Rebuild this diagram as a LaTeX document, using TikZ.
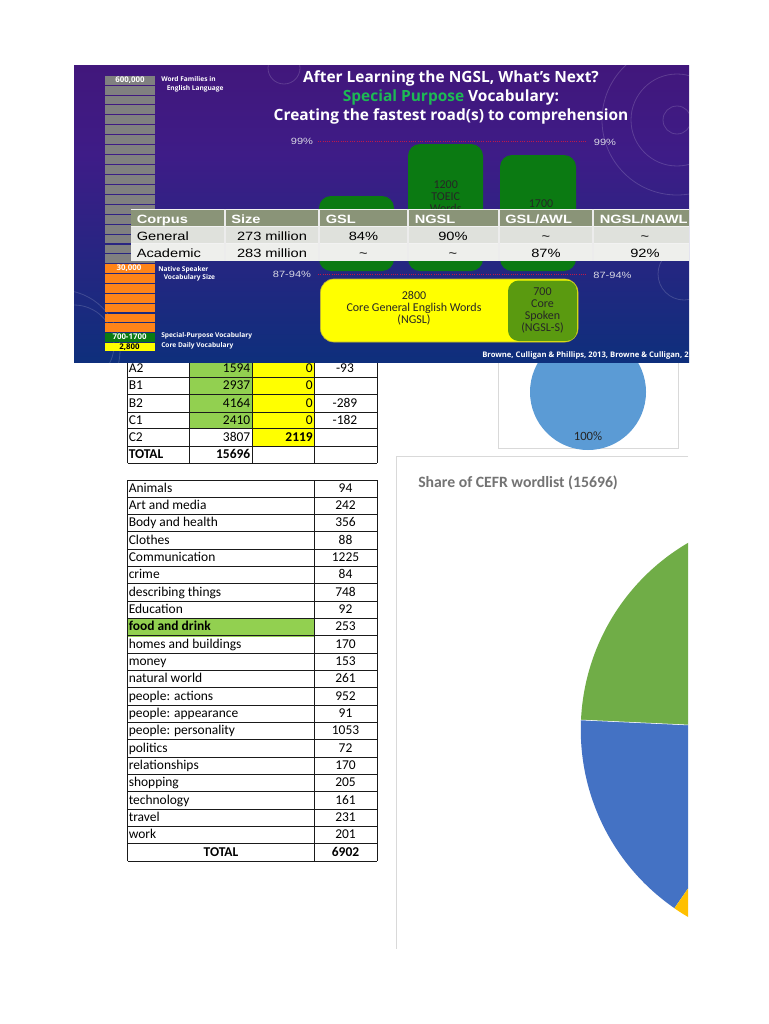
\documentclass[tikz,border=0pt]{standalone}
\usepackage{fontspec}
\setmainfont{Carlito}
\newfontfamily\slidefont{Open Sans}
\newfontfamily\arialfont[FakeStretch=1.22]{Liberation Sans}
\usetikzlibrary{shadings,calc}
\definecolor{gridline}{HTML}{1A1A1A}
\definecolor{cellgreen}{HTML}{92D050}
\definecolor{cellyellow}{HTML}{FFFF00}
\definecolor{framegray}{HTML}{D9D9D9}
\definecolor{piesmall}{HTML}{5B9BD5}
\definecolor{piegreen}{HTML}{70AD47}
\definecolor{pieblue}{HTML}{4472C4}
\definecolor{pieyellow}{HTML}{FFC000}
\definecolor{slidetop}{HTML}{470F69}
\definecolor{slidemid}{HTML}{3E1C87}
\definecolor{slidebot}{HTML}{0E2F7C}
\definecolor{boxgreen}{HTML}{0B7A12}
\definecolor{innergreen}{HTML}{5A9A10}
\definecolor{headgray}{HTML}{8A9478}
\definecolor{rowa}{HTML}{DFE1DC}
\definecolor{rowb}{HTML}{EEEFEC}
\definecolor{barorange}{HTML}{FF8418}
\definecolor{bargray}{HTML}{808080}
\definecolor{titlegreen}{HTML}{1DB954}
\definecolor{reddot}{HTML}{C0184A}
\definecolor{pctgray}{HTML}{D8D8E4}
\pgfdeclareverticalshading{slideshade}{100bp}{color(0bp)=(slidebot); color(25bp)=(slidebot); color(60bp)=(slidemid); color(100bp)=(slidetop)}
\tikzset{
  cell/.style={inner sep=0pt,text height=7pt,text depth=2pt,font=\fontsize{10.1pt}{12pt}\selectfont,text=black},
  lcell/.style={cell,anchor=west},
  rcell/.style={cell,anchor=east},
  ccell/.style={cell,anchor=center},
  grid/.style={draw=gridline,line width=0.75pt},
  gbox/.style={fill=boxgreen,rounded corners=9pt},
  slab/.style={inner sep=0pt,anchor=base west,text=white,font=\slidefont\bfseries\fontsize{4.95pt}{5.5pt}\selectfont},
  bartxt/.style={inner sep=0pt,anchor=base,font=\slidefont\bfseries\fontsize{5.9pt}{6pt}\selectfont},
  tit/.style={inner sep=0pt,anchor=base,text=white,font=\slidefont\bfseries\fontsize{11.6pt}{13pt}\selectfont},
  pct/.style={inner sep=0pt,text=pctgray,font=\arialfont\fontsize{6.8pt}{8pt}\selectfont},
  boxtxt/.style={inner sep=0pt,align=center,text=black!85,font=\fontsize{9pt}{9pt}\selectfont},
  thead/.style={inner sep=0pt,anchor=base west,text=white,font=\arialfont\bfseries\fontsize{9pt}{10pt}\selectfont},
  tval/.style={inner sep=0pt,anchor=base,text=black,font=\arialfont\fontsize{9pt}{10pt}\selectfont},
  ring/.style={draw=white,opacity=0.16,line width=0.6pt},
  rednote/.style={draw=reddot,densely dotted,line width=0.7pt},
}
\begin{document}
\begin{tikzpicture}[x=0.75pt,y=-0.75pt]
\useasboundingbox (0,0) rectangle (768,1024);
\fill[white] (0,0) rectangle (768,1024);

% ---- small pie chart frame
\draw[framegray,line width=0.75pt] (498.5,355) -- (498.5,448) -- (678.5,448) -- (678.5,355);
\fill[piesmall] (588,392) circle (58);
\node[inner sep=0pt,font=\fontsize{9.5pt}{11pt}\selectfont,text=black!85] (pctfull) at (588,436) {100\%};

% ---- large pie chart frame
\draw[framegray,line width=0.75pt] (688,456.5) -- (396.5,456.5) -- (396.5,949);
\node[inner sep=0pt,anchor=west,text=black!55,font=\bfseries\fontsize{11.8pt}{13pt}\selectfont] (sharetitle) at (418,483) {Share of CEFR wordlist (15696)};
\begin{scope}
\clip (396,500) rectangle (688,949);
\fill[piegreen] (797.4,730) -- (581,720) arc[start angle=182.6,end angle=240,radius=216.6] -- cycle;
\fill[pieblue] (797.4,730) -- (581,720) arc[start angle=182.6,end angle=124.6,radius=216.6] -- cycle;
\fill[pieyellow] (797.4,730) -- ($(797.4,730)+(124.6:216.6)$) arc[start angle=124.6,end angle=110,radius=216.6] -- cycle;
\draw[white,line width=0.4pt] (581,720) -- (797.4,730);
\end{scope}

% ---- CEFR table
\fill[cellgreen] (189.5,358) rectangle (252,428.5);
\fill[cellyellow] (252,358) rectangle (314,446);
\node[lcell] (a2) at (128.5,369) {A2};
\node[lcell] (b1) at (128.5,386.5) {B1};
\node[lcell] (b2) at (128.5,404) {B2};
\node[lcell] (c1) at (128.5,421) {C1};
\node[lcell] (c2) at (128.5,438) {C2};
\node[lcell,font=\bfseries\fontsize{10.1pt}{12pt}\selectfont] (tot) at (128.5,455) {TOTAL};
\node[rcell] (na2) at (250.5,369) {1594};
\node[rcell] (nb1) at (250.5,386.5) {2937};
\node[rcell] (nb2) at (250.5,404) {4164};
\node[rcell] (nc1) at (250.5,421) {2410};
\node[rcell] (nc2) at (250.5,438) {3807};
\node[rcell,font=\bfseries\fontsize{10.1pt}{12pt}\selectfont] (ntot) at (250.5,455) {15696};
\node[rcell] (za2) at (313,369) {0};
\node[rcell] (zb1) at (313,386.5) {0};
\node[rcell] (zb2) at (313,404) {0};
\node[rcell] (zc1) at (313,421) {0};
\node[rcell,font=\bfseries\fontsize{10.1pt}{12pt}\selectfont] (zc2) at (313,438) {2119};
\node[ccell] (da2) at (345,369) {-93};
\node[ccell] (db2) at (345,404) {-289};
\node[ccell] (dc1) at (345,421) {-182};
\foreach \yy in {377,394.5,412,428.5,446,463} \draw[grid] (127.5,\yy) -- (377,\yy);
\foreach \xx in {127.5,189.5,252,314,377} \draw[grid] (\xx,358) -- (\xx,463);

% ---- topic table
\fill[cellgreen] (127.5,619.2) rectangle (314,636.5);
\foreach \n/\lab/\val [count=\i from 0] in {
  animals/Animals/94, art/Art and media/242, body/Body and health/356, clothes/Clothes/88,
  comm/Communication/1225, crime/crime/84, desc/describing things/748, edu/Education/92,
  food/{\textbf{food and drink}}/253, homes/homes and buildings/170, money/money/153,
  nat/natural world/261, act/people: actions/952, appear/people: appearance/91,
  pers/people: personality/1053, pol/politics/72, rel/relationships/170, shop/shopping/205,
  tech/technology/161, trav/travel/231, work/work/201}{
  \node[lcell] (t\n) at (128.5,{489+\i*17.32}) {\lab};
  \node[ccell] (v\n) at (345.5,{489+\i*17.32}) {\val};
}
\node[ccell,font=\bfseries\fontsize{10.1pt}{12pt}\selectfont] (ttotal) at (221,852.8) {TOTAL};
\node[ccell,font=\bfseries\fontsize{10.1pt}{12pt}\selectfont] (vtotal) at (345.5,852.8) {6902};
\foreach \i in {0,...,22} \draw[grid] (127.5,{480+\i*17.32}) -- (377,{480+\i*17.32});
\foreach \xx in {127.5,314,377} \draw[grid] (\xx,480) -- (\xx,861);

% ---- slide
\begin{scope}
\clip (74,66) rectangle (689,362);
\shade[shading=slideshade] (74,66) rectangle (689,362);
\draw[ring] (677,120) circle (14);
\draw[ring] (677,120) circle (46);
\draw[ring] (677,120) circle (75);
\draw[ring] (684,274) circle (26);
\draw[ring] (284,68) circle (16);
\draw[ring] (74,345) circle (40);
\draw[ring] (60,350) circle (60);

% bar
\foreach \i in {0,...,18} \fill[bargray] (104.5,{75.7+\i*9.93}) rectangle (154.7,{84.6+\i*9.93});
\foreach \i in {0,...,6} \fill[barorange] (104.5,{264+\i*9.9}) rectangle (154.7,{272.8+\i*9.9});
\fill[boxgreen] (104.5,333) rectangle (154.7,341.5);
\fill[cellyellow] (104.5,343) rectangle (154.7,351);
\node[bartxt,text=white!85] (bar600) at (130,82.7) {600,000};
\node[bartxt,text=white!90] (bar30) at (129,270) {30,000};
\node[bartxt,text=white] (bar700) at (129.5,339) {700-1700};
\node[bartxt,text=black] (bar28) at (129.5,349) {2,800};
\node[slab] (lab1) at (161,82) {Word Families in};
\node[slab] (lab2) at (166.5,90.3) {English Language};
\node[slab] (lab3) at (158,271.3) {Native Speaker};
\node[slab] (lab4) at (163.5,279.3) {Vocabulary Size};
\node[slab] (lab5) at (161,337.7) {Special-Purpose Vocabulary};
\node[slab] (lab6) at (161,347.7) {Core Daily Vocabulary};

% titles
\node[tit] (t1) at (451,83) {After Learning the NGSL, What’s Next?};
\node[tit] (t2) at (451,101.5) {\textcolor{titlegreen}{Special Purpose} Vocabulary:};
\node[tit] (t3) at (451,120) {Creating the fastest road(s) to comprehension};

% dotted guides
\coordinate (g1a) at (318,141); \coordinate (g1b) at (587,141);
\coordinate (g2a) at (318,274); \coordinate (g2b) at (587,274);
\draw[rednote] (g1a) -- (g1b);
\draw[rednote] (g2a) -- (g2b);
\node[pct] (p1) at (302,141) {99\%};
\node[pct] (p2) at (605,142) {99\%};
\node[pct] (p3) at (292,274.5) {87-94\%};
\node[pct] (p4) at (612.5,275) {87-94\%};

% green boxes
\fill[gbox] (319,196) rectangle (394,271);
\fill[gbox] (408,144) rectangle (483,271);
\fill[gbox] (500,155) rectangle (576,271);
\node[boxtxt] (b1200) at (445.7,196.7) {1200\\TOEIC\\Words};
\node[boxtxt] (b1700) at (541,204) {1700};

% yellow box
\fill[cellyellow,draw=yellow!70!black,line width=0.5pt,rounded corners=10pt] (320.5,279) rectangle (578,342);
\fill[innergreen,rounded corners=8pt] (508,280.5) rectangle (577,341);
\node[boxtxt] (core) at (414,308.7) {2800\\Core General English Words\\(NGSL)};
\node[boxtxt] (spoken) at (542.5,310.7) {700\\Core\\Spoken\\(NGSL-S)};
\node[inner sep=0pt,anchor=base west,text=white!85,font=\slidefont\bfseries\fontsize{5.75pt}{6pt}\selectfont] (cite) at (482,357.7) {Browne, Culligan \& Phillips, 2013, Browne \& Culligan, 2};

% overlay table
\fill[white!90!gray] (130.7,209) rectangle (689,261);
\fill[headgray] (130.7,209.6) rectangle (689,225.7);
\fill[rowa] (130.7,226.5) rectangle (689,243);
\fill[rowb] (130.7,244) rectangle (689,261);
\foreach \xx in {225,319,408,499,593} \draw[white!85!gray,line width=0.8pt] (\xx,209) -- (\xx,261);
\node[thead] (hc) at (136.5,223) {Corpus};
\node[thead] (hs) at (231,223) {Size};
\node[thead] (hg) at (325.5,223) {GSL};
\node[thead] (hn) at (414.5,223) {NGSL};
\node[thead] (hga) at (505,223) {GSL/AWL};
\node[thead] (hna) at (599.5,223) {NGSL/NAWL};
\node[tval,anchor=base west] (r1) at (136.5,240) {General};
\node[tval] (r1s) at (272,240) {273 million};
\node[tval] (r1g) at (363.5,240) {84\%};
\node[tval] (r1n) at (453,240) {90\%};
\node[tval] (r1ga) at (546,240) {\textasciitilde};
\node[tval] (r1na) at (645,240) {\textasciitilde};
\node[tval,anchor=base west] (r2) at (136.5,257.3) {Academic};
\node[tval] (r2s) at (272,257.3) {283 million};
\node[tval] (r2g) at (363.5,257.3) {\textasciitilde};
\node[tval] (r2n) at (453,257.3) {\textasciitilde};
\node[tval] (r2ga) at (546,257.3) {87\%};
\node[tval] (r2na) at (645,257.3) {92\%};
\end{scope}
\end{tikzpicture}
\end{document}
